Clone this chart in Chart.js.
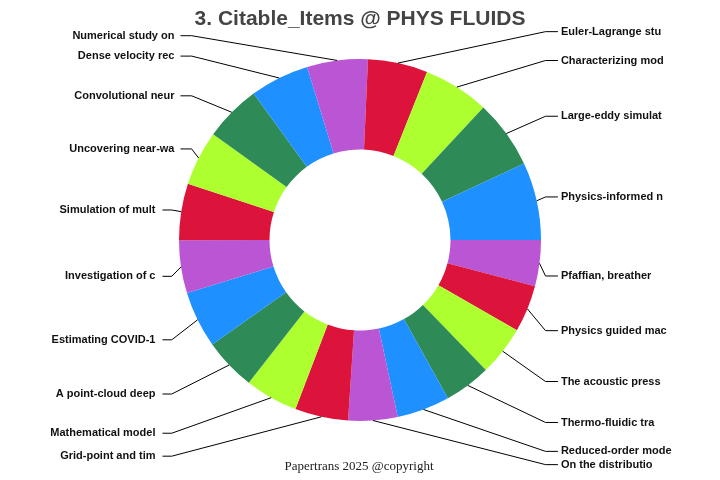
<!DOCTYPE html>
<html>
<head>
<meta charset="utf-8">
<script src="https://cdn.jsdelivr.net/npm/chart.js@4"></script>
<style>
  html, body { margin: 0; padding: 0; background: #ffffff; }
  #wrap { width: 720px; height: 480px; }
</style>
</head>
<body>
<div id="wrap"><canvas id="pie" width="720" height="480"></canvas></div>
<script>
// slices in drawing order, clockwise from 3 o'clock
const titles = [
  "Pfaffian, breather", "Physics guided mac", "The acoustic press",
  "Thermo-fluidic tra", "Reduced-order mode", "On the distributio",
  "Grid-point and tim", "Mathematical model", "A point-cloud deep",
  "Estimating COVID-1", "Investigation of c", "Simulation of mult",
  "Uncovering near-wa", "Convolutional neur", "Dense velocity rec",
  "Numerical study on", "Euler-Lagrange stu", "Characterizing mod",
  "Large-eddy simulat", "Physics-informed n"
];
const citable = [
  148, 151, 160, 150, 170, 158, 171, 170, 168, 182,
  170, 181, 177, 182, 190, 195, 192, 212, 220, 250
];
const palette = ["#BA55D3", "#DC143C", "#ADFF2F", "#2E8B57", "#1E90FF"];

const chartTitle = "3. Citable_Items @ PHYS FLUIDS";
const footNote = "Papertrans 2025 @copyright";

//draws leader lines, labels, title and footer
const outerLabels = {
  id: "outerLabels",
  afterDraw(chart) {
    const ctx = chart.ctx;
    const arcs = chart.getDatasetMeta(0).data;
    ctx.save();
    ctx.strokeStyle = "#000000";
    ctx.lineWidth = 1;
    ctx.font = "bold 11px 'Liberation Sans', Arial, sans-serif";
    ctx.fillStyle = "#111111";
    ctx.textBaseline = "middle";
    arcs.forEach((arc, i) => {
      const { x, y, startAngle, endAngle, outerRadius } = arc.getProps(
        ["x", "y", "startAngle", "endAngle", "outerRadius"], true);
      const mid = (startAngle + endAngle) / 2;
      const R = outerRadius;
      const px = x + Math.cos(mid) * R;
      const py = y + Math.sin(mid) * R;
      const right = Math.cos(mid) > 0;
      //upper left labels sit a bit closer in
      const tucked = !right && Math.sin(mid) < -0.3;
      //lower right labels drop a little further
      const drop = right && Math.sin(mid) > 0 ? 8 : 4;
      const ly = y + drop + (tucked ? 1.16 : 1.2) * R * Math.sin(mid);
      let elbowX, lineEnd, textX;
      if (right) {
        elbowX = x + 1.025 * R;
        textX = x + 1.11 * R;
        lineEnd = textX - 3;
        ctx.textAlign = "left";
      } else if (tucked) {
        elbowX = x - 0.93 * R;
        textX = x - 1.025 * R;
        lineEnd = textX + 6;
        ctx.textAlign = "right";
      } else {
        elbowX = x - 1.04 * R;
        textX = x - 1.13 * R;
        lineEnd = textX + 7;
        ctx.textAlign = "right";
      }
      ctx.beginPath();
      ctx.moveTo(px, py);
      ctx.lineTo(elbowX, ly);
      ctx.lineTo(lineEnd, ly);
      ctx.stroke();
      ctx.fillText(chart.data.labels[i], textX, ly);
    });

    ctx.textAlign = "center";
    ctx.textBaseline = "alphabetic";
    ctx.fillStyle = "#444444";
    ctx.font = "bold 21px 'Liberation Sans', Arial, sans-serif";
    ctx.fillText(chartTitle, 360, 25);

    ctx.fillStyle = "#222222";
    ctx.font = "13px 'Liberation Serif', 'Times New Roman', serif";
    ctx.fillText(footNote, 359, 470);
    ctx.restore();
  }
};

new Chart(document.getElementById("pie"), {
  type: "doughnut",
  plugins: [outerLabels],
  data: {
    labels: titles,
    datasets: [
      {
        data: citable,
        backgroundColor: titles.map((_, i) => palette[i % palette.length]),
        borderWidth: 0,
        hoverOffset: 0,
      },
    ],
  },
  options: {
    responsive: false,
    devicePixelRatio: 1,
    animation: false,
    rotation: 90,
    cutout: "50%",
    layout: { padding: { top: 59, bottom: 59, left: 0, right: 0 } },
    plugins: {
      legend: { display: false },
      tooltip: { enabled: false },
      title: { display: false },
    },
  },
});
</script>
</body>
</html>
